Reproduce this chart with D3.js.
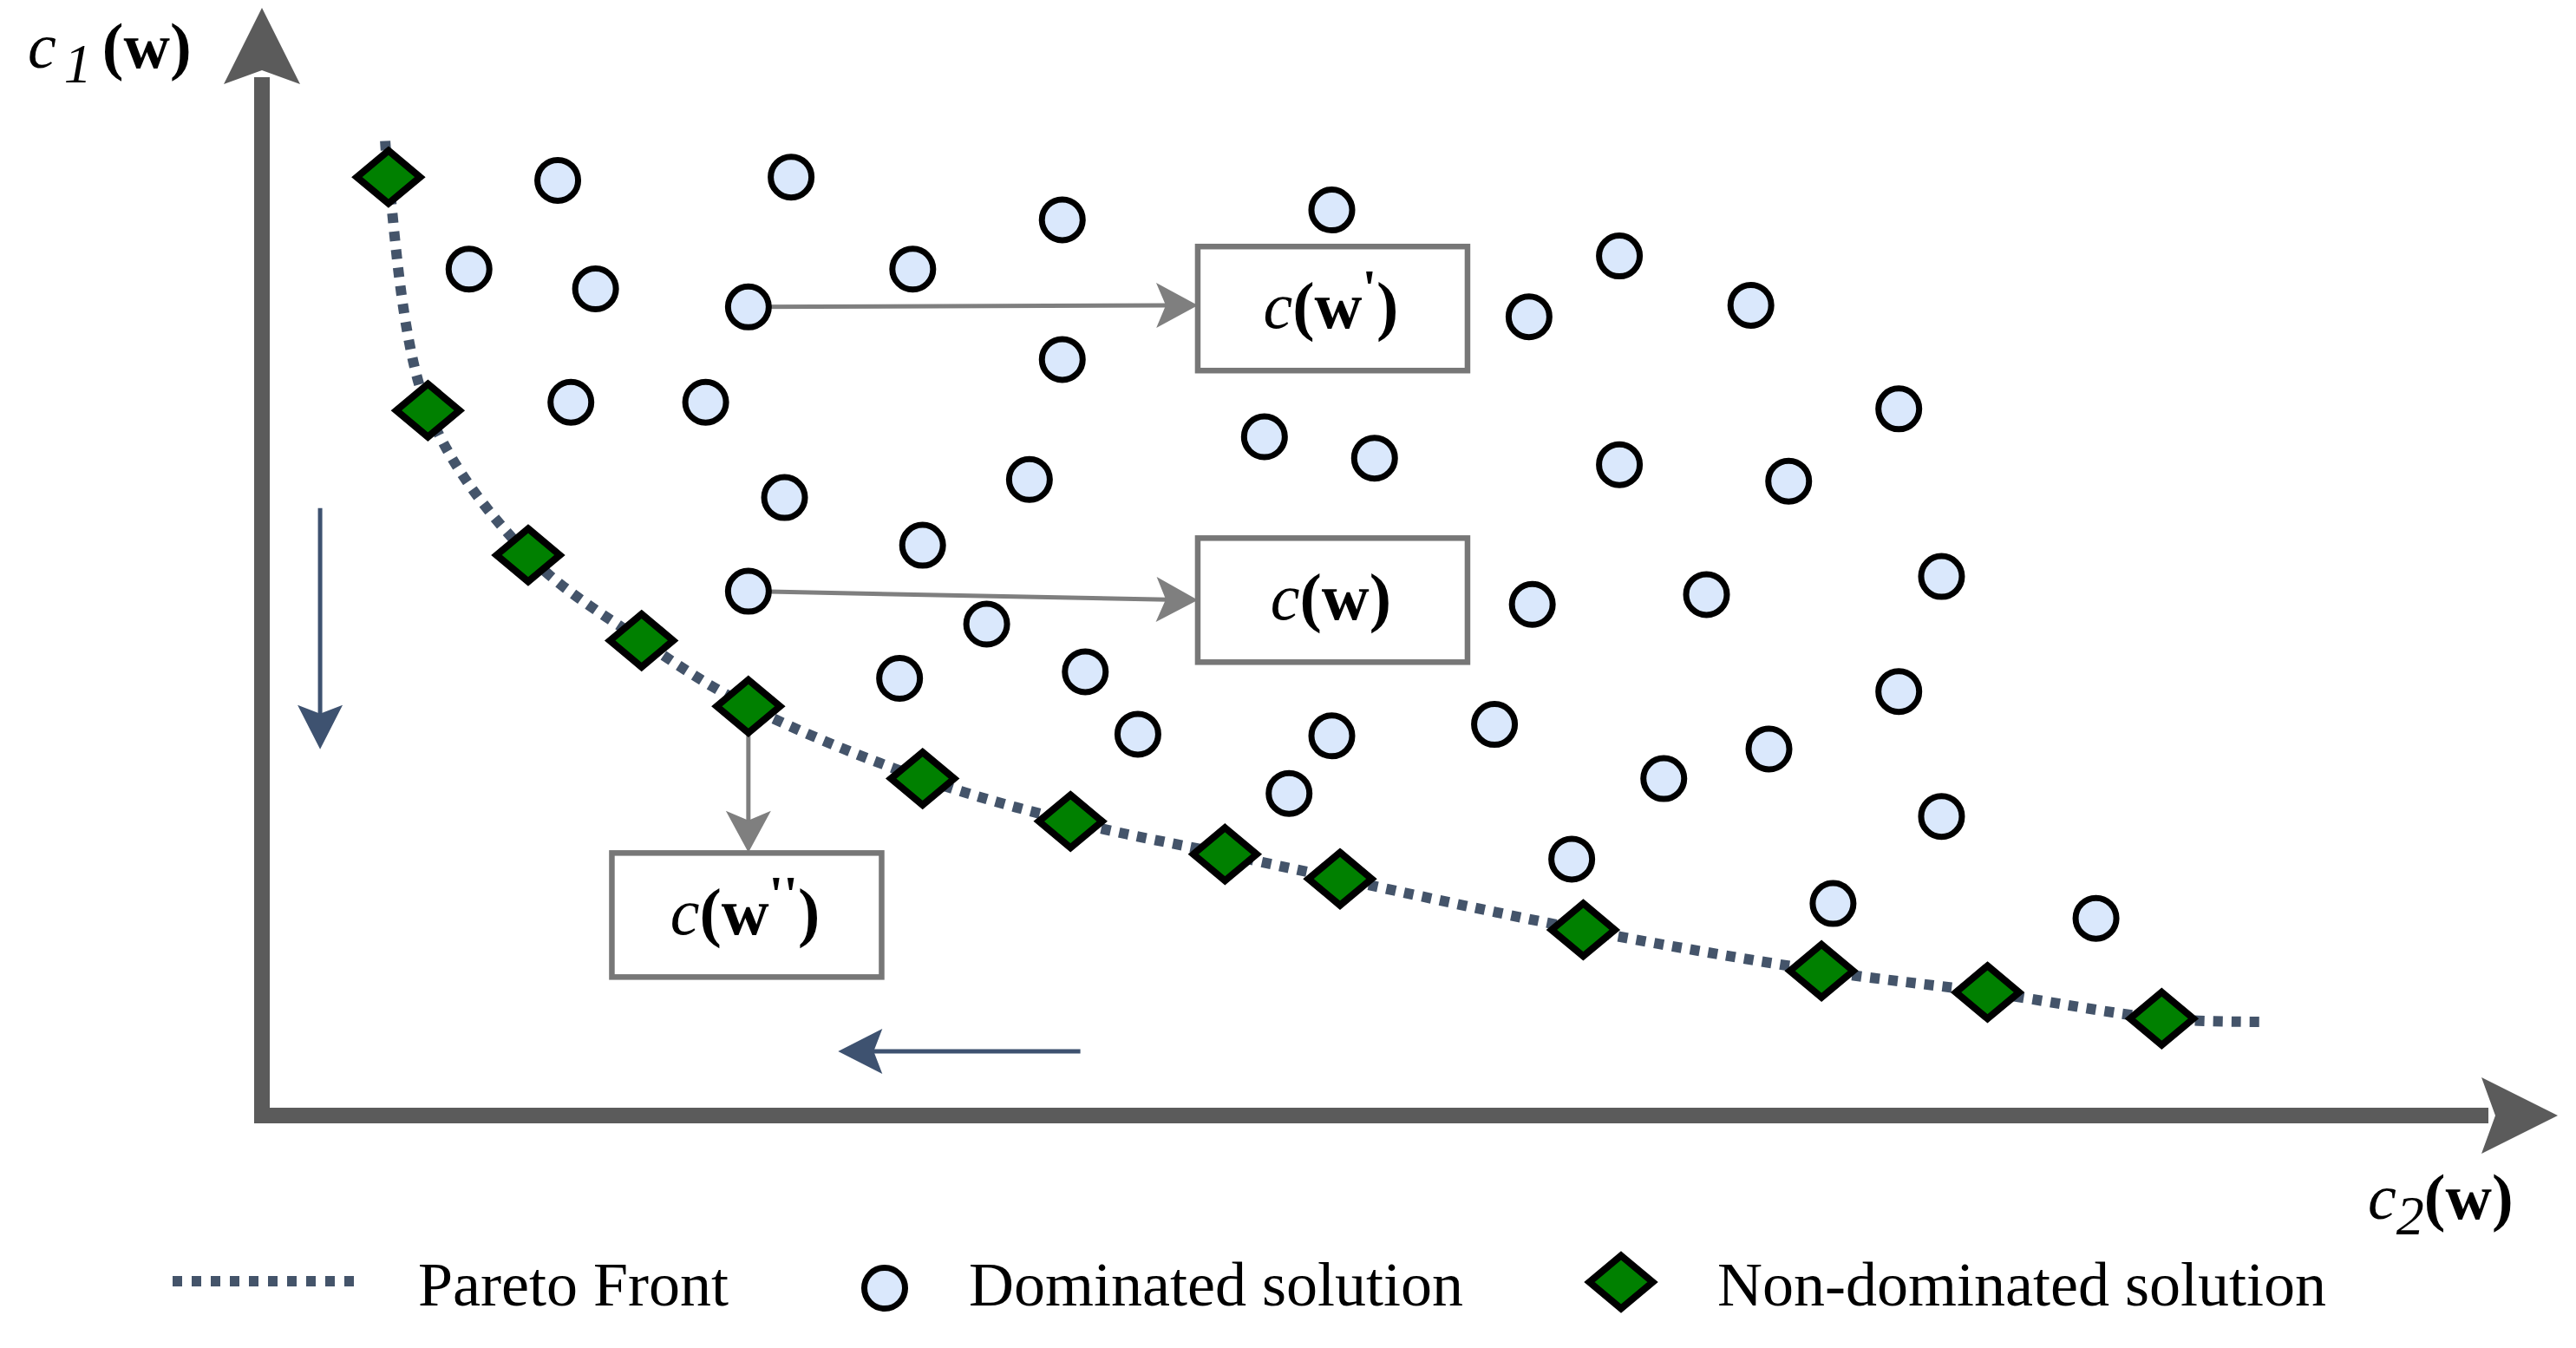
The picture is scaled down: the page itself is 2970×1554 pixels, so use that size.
<!DOCTYPE html>
<html><head><meta charset="utf-8">
<script src="https://cdn.jsdelivr.net/npm/d3@7"></script>
<style>html,body{margin:0;padding:0;background:#fff;} svg{display:block}</style>
</head><body>
<script>
// ---- data (c2 = horizontal objective, c1 = vertical objective) ----
const dominatedC2 = [180, 322, 487, 651, 126, 203, 296, 396, 487, 771, 826, 906, 188, 270, 610, 677, 826, 929, 996, 318,
                     467, 402, 296, 441, 773, 879, 1022, 388, 501, 533, 651, 750, 996, 917, 853, 625, 1022, 797, 956, 1116];
const dominatedC1 = [569, 571, 545, 551, 515, 503, 492, 515, 460, 486, 523, 493, 434, 434, 413, 400, 396, 386, 430, 376,
                     387, 347, 319, 299, 311, 317, 328, 266, 270, 232, 231, 238, 258, 223, 205, 196, 182, 156, 129, 120];
const paretoC2 = [77, 101, 162, 231, 296, 402, 492, 586, 656, 804, 949, 1050, 1156];
const paretoC1 = [571, 429, 341, 289, 249, 205, 179, 159, 144, 113, 88, 75, 59];
const frontC2 = [75, ...paretoC2, 1218];
const frontC1 = [593, ...paretoC1, 57];
const legendLabels = ["Pareto Front", "Dominated solution", "Non-dominated solution"];
const boxLabels = [["c", "(", "w", "'", ")"], ["c", "(", "w", "", ")"], ["c", "(", "w", "''", ")"]];
const boxCentersC2 = [651.5, 651.5, 295];
const boxCentersC1 = [491, 313.6, 122];
// annotation arrows: start (solution) -> end (box edge)
const arrowFromC2 = [296, 296, 296];
const arrowFromC1 = [492, 319, 249];
const arrowToC2 = [569.5, 569.5, 296];
const arrowToC1 = [493, 313.6, 160];
// direction-of-improvement arrows
const dirFromC2 = [35.4, 498];
const dirFromC1 = [369.6, 39];
const dirToC2 = [35.4, 350.6];
const dirToC1 = [222.8, 39];

const W = 2970, H = 1554;
const svg = d3.select("body").append("svg").attr("width", W).attr("height", H)
  .style("font-family", "'Liberation Serif','Times New Roman',serif");
svg.append("rect").attr("width", W).attr("height", H).attr("fill", "#fff");

const x = d3.scaleLinear().domain([0, 1397]).range([302, 2949]);
const y = d3.scaleLinear().domain([0, 674]).range([1286, 9]);

function arrow(g, x1, y1, x2, y2, len, hw, notch, color, lw) {
  const a = Math.atan2(y2 - y1, x2 - x1);
  const ux = Math.cos(a), uy = Math.sin(a), px = -uy, py = ux;
  const bx = x2 - ux * len, by = y2 - uy * len;
  const nx = x2 - ux * (len - notch), ny = y2 - uy * (len - notch);
  g.append("line").attr("x1", x1).attr("y1", y1).attr("x2", nx + ux * 2).attr("y2", ny + uy * 2)
    .attr("stroke", color).attr("stroke-width", lw);
  g.append("path").attr("d", `M${x2},${y2}L${bx + px * hw},${by + py * hw}L${nx},${ny}L${bx - px * hw},${by - py * hw}Z`)
    .attr("fill", color);
}

// ---- axes ----
const axG = svg.append("g");
axG.append("line").attr("x1", x(0)).attr("y1", y(0) + 9).attr("x2", x(0)).attr("y2", y(674) + 80)
  .attr("stroke", "#5b5b5b").attr("stroke-width", 18);
axG.append("line").attr("x1", x(0) - 6).attr("y1", y(0)).attr("x2", x(1397) - 80).attr("y2", y(0))
  .attr("stroke", "#5b5b5b").attr("stroke-width", 18);
axG.append("path").attr("d", `M${x(0)},${y(674)}L${x(0) + 44},${y(674) + 88}L${x(0)},${y(674) + 72}L${x(0) - 44},${y(674) + 88}Z`)
  .attr("fill", "#5b5b5b");
axG.append("path").attr("d", `M${x(1397)},${y(0)}L${x(1397) - 88},${y(0) - 44}L${x(1397) - 72},${y(0)}L${x(1397) - 88},${y(0) + 44}Z`)
  .attr("fill", "#5b5b5b");

// axis labels
const yl = svg.append("text").attr("x", 32).attr("y", 78).attr("font-size", 74).attr("fill", "#000");
yl.append("tspan").attr("font-style", "italic").text("c");
yl.append("tspan").attr("font-style", "italic").attr("font-size", 64).attr("dx", 9).attr("dy", 17).text("1");
yl.append("tspan").attr("font-weight", "bold").attr("dx", 12).attr("dy", -17).text("(w)");

const xl = svg.append("text").attr("x", 2730).attr("y", 1405).attr("font-size", 74).attr("fill", "#000");
xl.append("tspan").attr("font-style", "italic").text("c");
xl.append("tspan").attr("font-style", "italic").attr("font-size", 64).attr("dx", 0).attr("dy", 18).text("2");
xl.append("tspan").attr("font-weight", "bold").attr("dy", -18).text("(w)");

// ---- direction arrows ----
const dirG = svg.append("g");
dirFromC2.forEach((d, i) => arrow(dirG, x(d), y(dirFromC1[i]), x(dirToC2[i]), y(dirToC1[i]), 51, 26, 10, "#3e5270", 5));

// ---- annotation arrows ----
const annG = svg.append("g");
arrowFromC2.forEach((d, i) => arrow(annG, x(d), y(arrowFromC1[i]), x(arrowToC2[i]), y(arrowToC1[i]), 48, 26, 11, "#7f7f7f", 5));

// ---- pareto front line ----
const frontPts = frontC2.map((d, i) => [d, frontC1[i]]);
svg.append("path").datum(frontPts)
  .attr("d", d3.line().x(d => x(d[0])).y(d => y(d[1])).curve(d3.curveCatmullRom.alpha(0.5)))
  .attr("fill", "none").attr("stroke", "#44546a").attr("stroke-width", 12).attr("stroke-dasharray", "11 10");

// ---- dominated solutions ----
svg.append("g").selectAll("circle").data(dominatedC2.map((d, i) => [d, dominatedC1[i]])).join("circle")
  .attr("cx", d => x(d[0])).attr("cy", d => y(d[1])).attr("r", 23.5)
  .attr("fill", "#dae8fc").attr("stroke", "#000").attr("stroke-width", 7);

// ---- non-dominated solutions ----
const diamond = "M0,-30.5L36.5,0L0,30.5L-36.5,0Z";
svg.append("g").selectAll("path").data(paretoC2.map((d, i) => [d, paretoC1[i]])).join("path")
  .attr("d", diamond).attr("transform", d => `translate(${x(d[0])},${y(d[1])})`)
  .attr("fill", "#008000").attr("stroke", "#000").attr("stroke-width", 8);

// ---- boxes ----
const boxW = 311, boxH = 143;
boxLabels.forEach((lab, i) => {
  const cx = x(boxCentersC2[i]), cy = y(boxCentersC1[i]);
  svg.append("rect").attr("x", cx - boxW / 2).attr("y", cy - boxH / 2).attr("width", boxW).attr("height", boxH)
    .attr("fill", "#fff").attr("stroke", "#777").attr("stroke-width", 6.5);
  const t = svg.append("text").attr("x", cx - 2).attr("y", cy + 22).attr("text-anchor", "middle").attr("font-size", 76);
  t.append("tspan").attr("font-style", "italic").text(lab[0]);
  t.append("tspan").attr("font-weight", "bold").text(lab[1] + lab[2]);
  if (lab[3]) t.append("tspan").attr("font-weight", "bold").attr("font-size", 60).attr("dy", -26).text(lab[3]);
  t.append("tspan").attr("font-weight", "bold").attr("dy", lab[3] ? 26 : 0).text(lab[4]);
});

// ---- legend ----
const lg = svg.append("g");
lg.append("line").attr("x1", 199).attr("x2", 411).attr("y1", 1477).attr("y2", 1477)
  .attr("stroke", "#44546a").attr("stroke-width", 12).attr("stroke-dasharray", "11 11");
lg.append("circle").attr("cx", 1020).attr("cy", 1485).attr("r", 23.5)
  .attr("fill", "#dae8fc").attr("stroke", "#000").attr("stroke-width", 7);
lg.append("path").attr("d", diamond).attr("transform", "translate(1869,1478)")
  .attr("fill", "#008000").attr("stroke", "#000").attr("stroke-width", 8);
const legX = [482, 1117, 1980];
legendLabels.forEach((l, i) => lg.append("text").attr("x", legX[i]).attr("y", 1505).attr("font-size", 72).text(l));
</script>
</body></html>
